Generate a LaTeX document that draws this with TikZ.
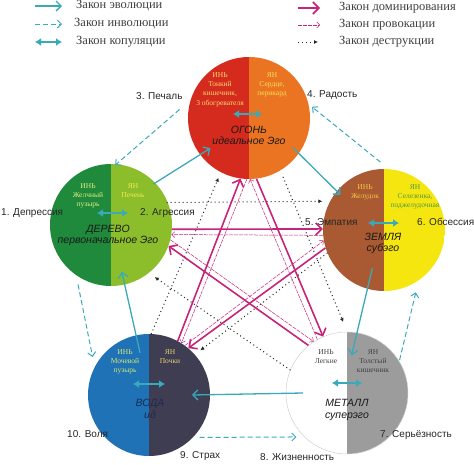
\documentclass[tikz,border=0pt]{standalone}
\usepackage{fontspec}
\setmainfont{Liberation Serif}
\setsansfont{Liberation Sans}
\usepackage[dvipsnames]{xcolor}
\usepackage{tikz}
\usetikzlibrary{calc,arrows.meta}

\definecolor{fireyin}{HTML}{D52B1E}
\definecolor{fireyang}{HTML}{EA7421}
\definecolor{woodyin}{HTML}{1F8A3C}
\definecolor{woodyang}{HTML}{8CBE2C}
\definecolor{earthyin}{HTML}{A95A32}
\definecolor{earthyang}{HTML}{F5E60F}
\definecolor{wateryin}{HTML}{1F72B6}
\definecolor{wateryang}{HTML}{3F3D51}
\definecolor{metalyang}{HTML}{9C9C9C}
\definecolor{evolteal}{HTML}{3AA9BA}
\definecolor{dommag}{HTML}{C72479}
\definecolor{fireyintxt}{HTML}{F6D96B}
\definecolor{fireyangtxt}{HTML}{F8E35A}
\definecolor{woodyintxt}{HTML}{E2EC7C}
\definecolor{woodyangtxt}{HTML}{F3EC4E}
\definecolor{earthyintxt}{HTML}{F6C63E}
\definecolor{earthyangtxt}{HTML}{4C9B47}
\definecolor{wateryintxt}{HTML}{D3E86E}
\definecolor{wateryangtxt}{HTML}{E6D276}
\definecolor{waterego}{HTML}{1E2A50}

\begin{document}
\begin{tikzpicture}[x=1pt,y=-1pt,
	elem/.style 2 args={circle,minimum size=122pt,inner sep=0pt,path picture={
		\fill[#1] (path picture bounding box.south west) rectangle (path picture bounding box.north);
		\fill[#2] (path picture bounding box.south) rectangle (path picture bounding box.north east);}},
	organ/.style={anchor=north,align=center,inner sep=0pt,font=\fontsize{7.5}{9.3}\selectfont},
	ego/.style={align=center,inner sep=0pt,text=black!90,font=\sffamily\itshape\fontsize{10.5}{11.5}\selectfont},
	lab/.style={anchor=west,inner sep=0pt,text=black!85,font=\sffamily\fontsize{10}{11}\selectfont},
	leg/.style={anchor=west,inner sep=1pt,text=black!75,font=\fontsize{12.5}{14}\selectfont},
	evol/.style={draw=evolteal,line width=1.3pt,-{Straight Barb[length=5pt,width=10pt]}},
	invol/.style={draw=evolteal,line width=1pt,dash pattern=on 5pt off 3pt,-{Straight Barb[length=4pt,width=8pt]}},
	copul/.style={draw=evolteal,line width=2pt,{Latex[length=6pt,width=8pt]}-{Latex[length=6pt,width=8pt]}},
	domin/.style={draw=dommag,line width=1.6pt,-{Straight Barb[length=6pt,width=12pt]}},
	provoc/.style={draw=dommag,line width=0.5pt,dash pattern=on 4pt off 1pt,-{Straight Barb[length=3pt,width=6pt]}},
	destr/.style={draw=black!85,line width=1pt,dash pattern=on 1pt off 3pt,-{Latex[length=4pt,width=4pt]}}]
	\useasboundingbox (0,0) rectangle (474,464);

	% the five elements
	\node[elem={fireyin}{fireyang}] (fire) at (249,118) {};
	\node[elem={woodyin}{woodyang}] (wood) at (111,225) {};
	\node[elem={earthyin}{earthyang}] (earth) at (384,230) {};
	\node[elem={wateryin}{wateryang}] (water) at (149,395) {};
	\node[elem={white}{metalyang},draw=black!18,line width=0.5pt] (metal) at (347,393) {};

	% organs
	\node[organ,text=fireyintxt] (fireyinorg) at ($(fire)+(-29,-46)$) {ИНЬ\\Тонкий\\кишечник,\\3 обогревателя};
	\node[organ,text=fireyangtxt] (fireyangorg) at ($(fire)+(23,-46)$) {ЯН\\Сердце,\\перикард};
	\node[organ,text=woodyintxt] (woodyinorg) at ($(wood)+(-23,-42)$) {ИНЬ\\Желчный\\пузырь};
	\node[organ,text=woodyangtxt] (woodyangorg) at ($(wood)+(22,-42)$) {ЯН\\Печень};
	\node[organ,text=earthyintxt] (earthyinorg) at ($(earth)+(-19,-46)$) {ИНЬ\\Желудок};
	\node[organ,text=earthyangtxt] (earthyangorg) at ($(earth)+(31,-46)$) {ЯН\\Селезенка,\\поджелудочная};
	\node[organ,text=wateryintxt] (wateryinorg) at ($(water)+(-24,-46)$) {ИНЬ\\Мочевой\\пузырь};
	\node[organ,text=wateryangtxt] (wateryangorg) at ($(water)+(21,-46)$) {ЯН\\Почки};
	\node[organ,text=black!75] (metalyinorg) at ($(metal)+(-21,-44)$) {ИНЬ\\Легкие};
	\node[organ,text=black!75] (metalyangorg) at ($(metal)+(26,-44)$) {ЯН\\Толстый\\кишечник};

	\node[ego] (fireego) at ($(fire)+(0,17.5)$) {ОГОНЬ\\идеальное Эго};
	\node[ego] (woodego) at ($(wood)+(-3,10.5)$) {ДЕРЕВО\\первоначальное Эго};
	\node[ego] (earthego) at ($(earth)+(-1,13.5)$) {ЗЕМЛЯ\\субэго};
	\node[ego,text=waterego] (waterego) at ($(water)+(1,14)$) {ВОДА\\ид};
	\node[ego] (metalego) at ($(metal)+(0,17)$) {МЕТАЛЛ\\суперэго};

	% copulation
	\draw[copul] ($(fire)+(-16,-4)$) -- ($(fire)+(13,-4)$);
	\draw[copul] ($(wood)+(-14,-12)$) -- ($(wood)+(17,-12)$);
	\draw[copul] ($(earth)+(-16,-7)$) -- ($(earth)+(15,-7)$);
	\draw[copul] ($(water)+(-16,-11)$) -- ($(water)+(16,-11)$);
	\draw[copul] ($(metal)+(-15,-10)$) -- ($(metal)+(15,-10)$);

	% destruction
	\draw[destr] ($(wood)+(22:60pt)$) -- ($(earth)+(155:68pt)$);
	\draw[destr] ($(metal)+(158:61pt)$) -- ($(wood)+(-50:68pt)$);
	\draw[destr] ($(earth)+(202:61pt)$) -- ($(water)+(41:68pt)$);
	\draw[destr] ($(water)+(88:61pt)$) -- ($(fire)+(243:67pt)$);
	\draw[destr] ($(fire)+(-60:68pt)$) -- ($(metal)+(93:71pt)$);

	% domination and provocation
	\draw[domin] (wood.-4) -- (earth.179);
	\draw[domin] (earth.197) -- (water.50);
	\draw[domin] (water.62) -- (fire.262);
	\draw[domin] (fire.-83) -- (metal.113);
	\draw[domin] (metal.129) -- (wood.-20);
	\draw[provoc] (earth.185) -- (wood.-9);
	\draw[provoc] (water.54) -- (earth.190);
	\draw[provoc] (fire.268) -- (water.58);
	\draw[provoc] (metal.119) -- (fire.-89);
	\draw[provoc] (wood.-14) -- (metal.123);

	% evolution
	\draw[evol] ($(wood)+(44:59pt)$) -- ($(fire)+(218:49pt)$);
	\draw[evol] ($(fire)+(-34:53pt)$) -- ($(earth)+(141:56pt)$);
	\draw[evol] ($(earth)+(-107:40pt)$) -- ($(metal)+(83:38pt)$);
	\draw[evol] ($(metal)+(180:44pt)$) -- ($(water)+(0:43pt)$);
	\draw[evol] ($(water)+(102:43pt)$) -- ($(wood)+(-77:48pt)$);

	% involution
	\draw[invol] ($(fire)+(173:70pt)$) -- ($(wood)+(86:60pt)$);
	\draw[invol] ($(wood)+(-119:68pt)$) -- ($(water)+(146:68pt)$);
	\draw[invol] ($(water)+(-40:66pt)$) -- ($(metal)+(221:67pt)$);
	\draw[invol] ($(metal)+(32:62pt)$) -- ($(earth)+(-63:70pt)$);
	\draw[invol] ($(earth)+(93:68pt)$) -- ($(fire)+(10:64pt)$);

	% states
	\node[lab] (s1) at (1,213) {1. Депрессия};
	\node[lab] (s2) at (140,213) {2. Агрессия};
	\node[lab] (s3) at (136,96) {3. Печаль};
	\node[lab] (s4) at (307,95) {4. Радость};
	\node[lab] (s5) at (305,222) {5. Эмпатия};
	\node[lab] (s6) at (417,222) {6. Обсессия};
	\node[lab] (s7) at (380,435) {7. Серьёзность};
	\node[lab] (s8) at (260,457) {8. Жизненность};
	\node[lab] (s9) at (180,456) {9. Страх};
	\node[lab] (s10) at (67,434) {10. Воля};

	% legend
	\node[leg] (l1) at (75,6) {Закон эволюции};
	\node[leg] (l2) at (73,24) {Закон инволюции};
	\node[leg] (l3) at (75,42) {Закон копуляции};
	\node[leg] (r1) at (338,8) {Закон доминирования};
	\node[leg] (r2) at (338,25) {Закон провокации};
	\node[leg] (r3) at (338,42) {Закон деструкции};
	\draw[evol] ([xshift=-40pt]l1.west) -- ([xshift=-13pt]l1.west);
	\draw[invol] ([xshift=-38pt]l2.west) -- ([xshift=-11pt]l2.west);
	\draw[copul] ([xshift=-40pt]l3.west) -- ([xshift=-13pt]l3.west);
	\draw[domin] ([xshift=-40pt]r1.west) -- ([xshift=-18pt]r1.west);
	\draw[provoc] ([xshift=-40pt]r2.west) -- ([xshift=-18pt]r2.west);
	\draw[destr] ([xshift=-40pt]r3.west) -- ([xshift=-20pt]r3.west);
\end{tikzpicture}
\end{document}
